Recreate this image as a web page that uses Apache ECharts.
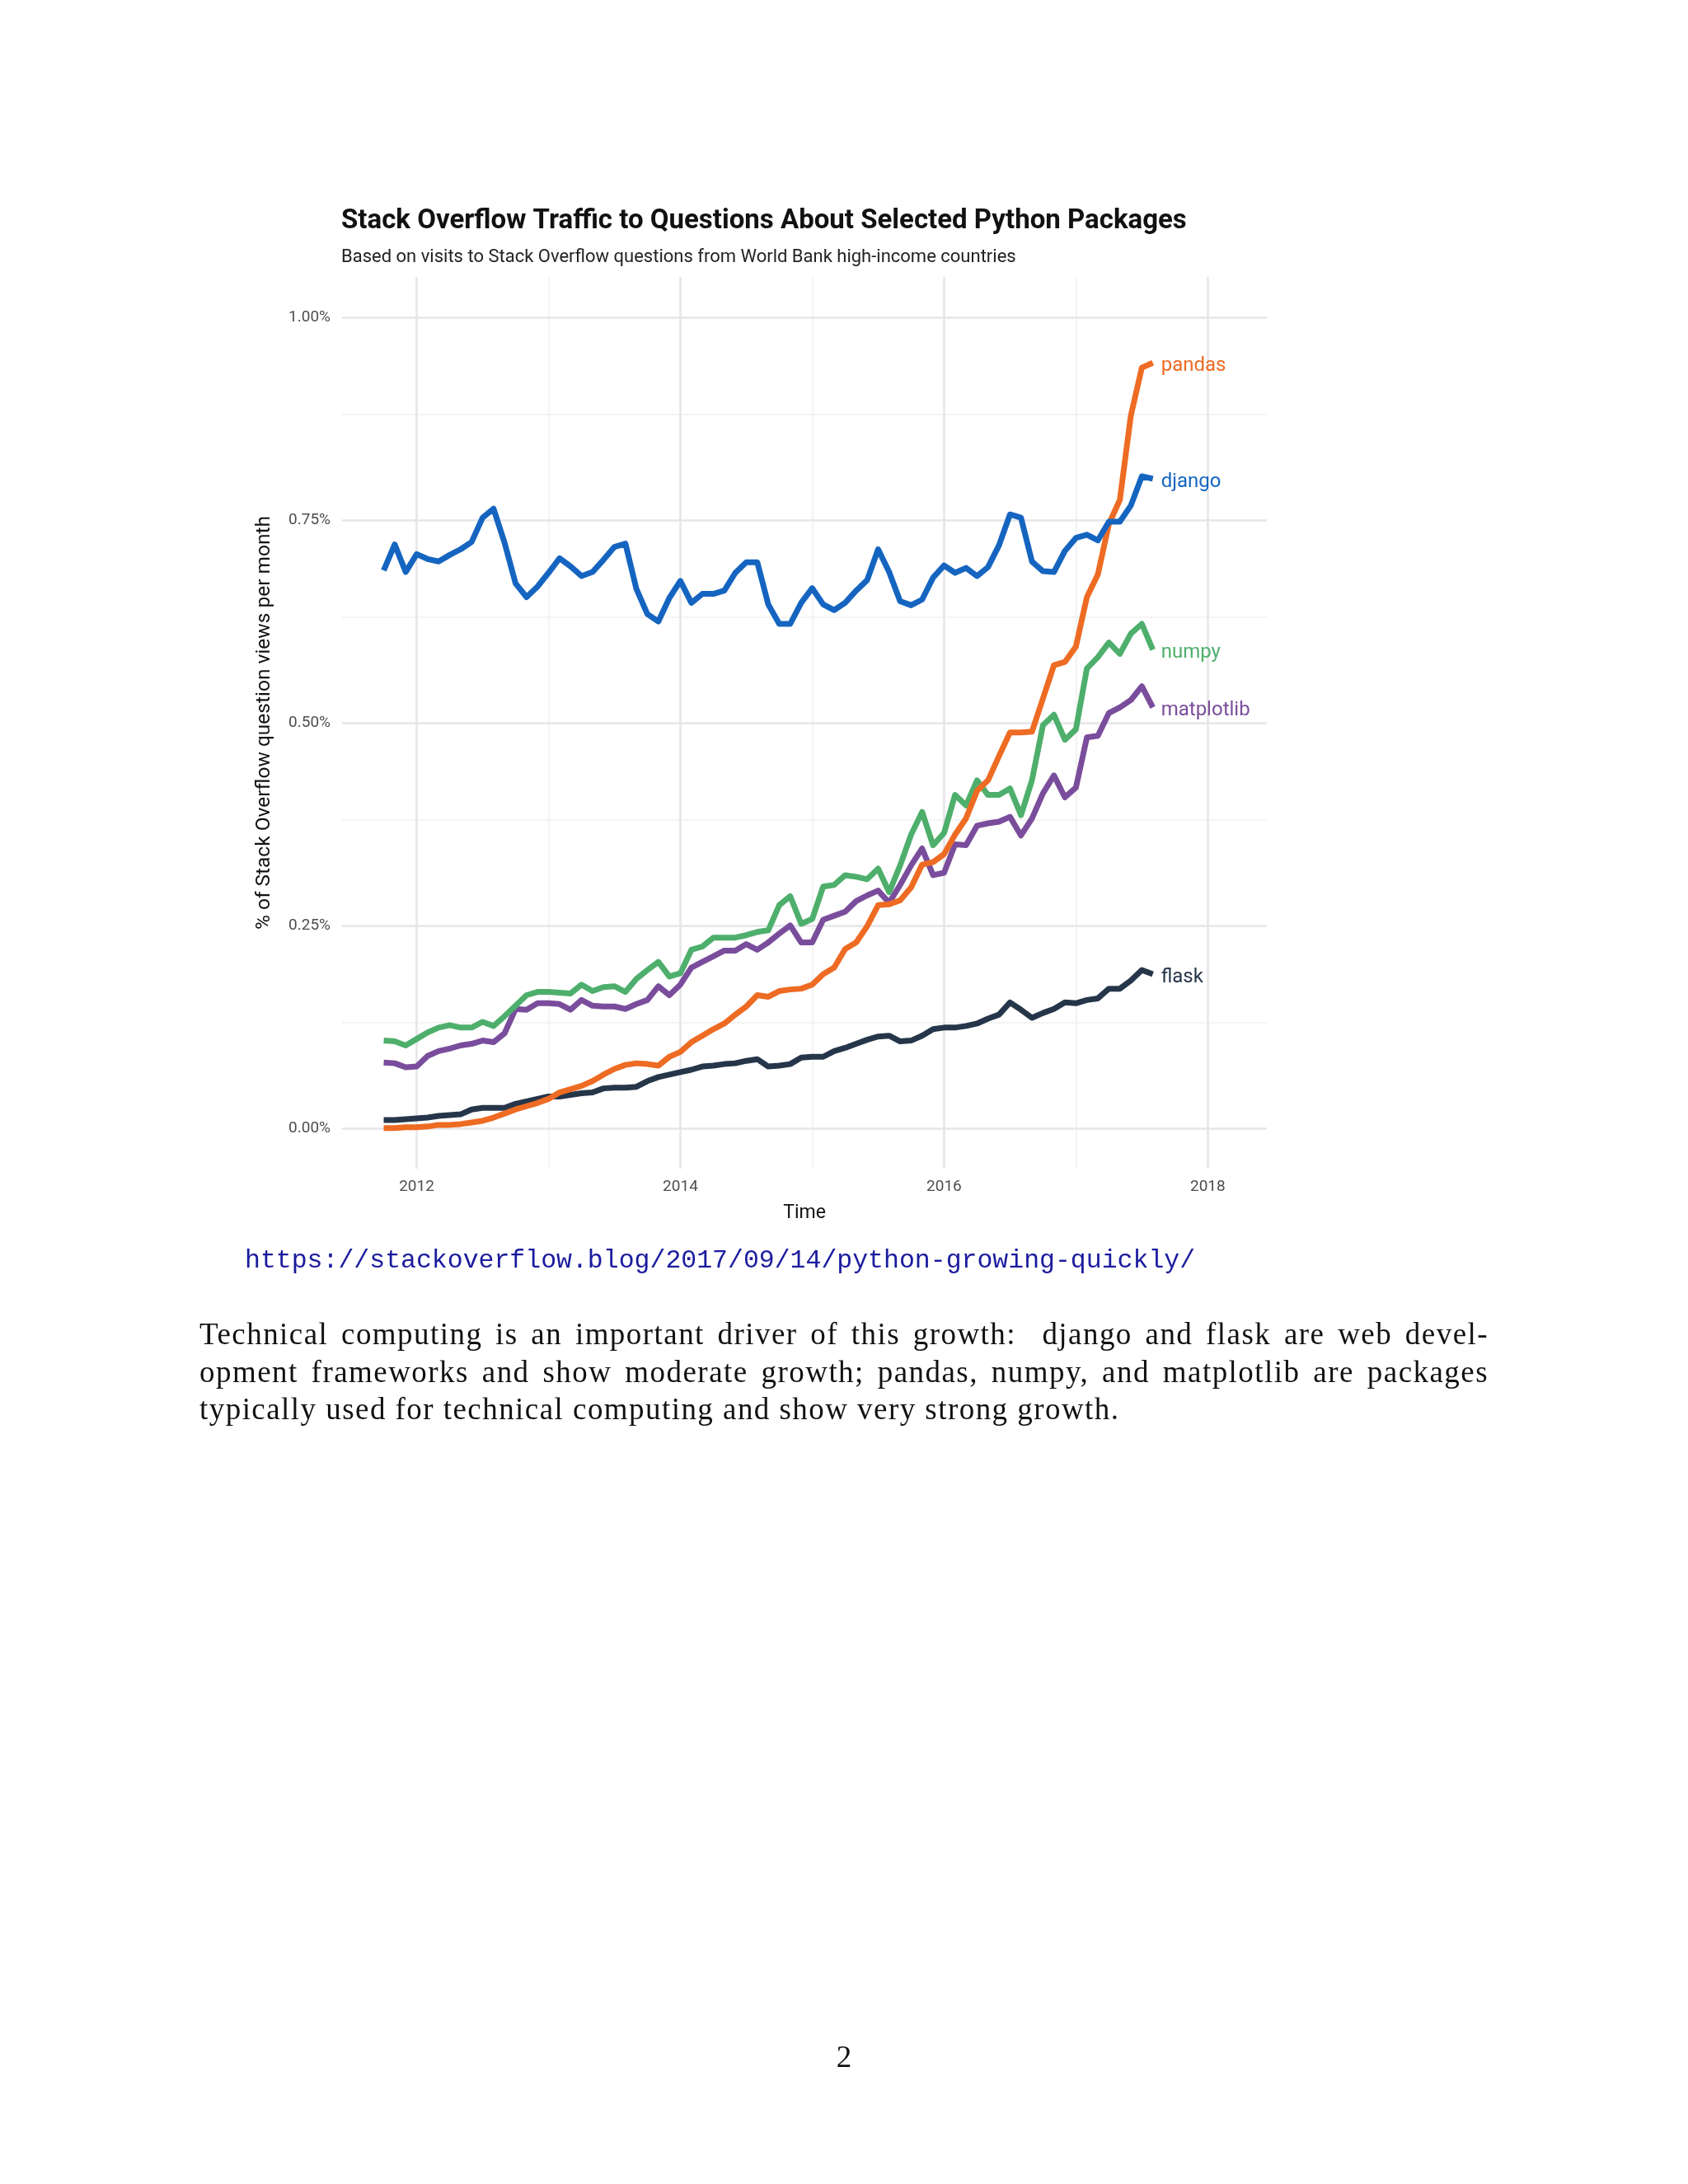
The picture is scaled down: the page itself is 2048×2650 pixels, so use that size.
<!DOCTYPE html>
<html>
<head>
<meta charset="utf-8">
<script src="https://cdn.jsdelivr.net/npm/echarts@6/dist/echarts.min.js"></script>
<style>
  html, body { margin:0; padding:0; background:#ffffff; }
  body { width:2048px; height:2650px; position:relative; overflow:hidden; }
  #chart { position:absolute; left:0; top:0; width:2048px; height:2650px; }
  .url { position:absolute; left:297px; top:1510px; font-family:"Liberation Mono", monospace; font-size:31.5px; line-height:40px; color:#1b1b9e; white-space:nowrap; }
  .para { position:absolute; left:242px; top:1596px; width:1564px; font-family:"Liberation Serif", serif; font-size:37px; line-height:45.6px; color:#111; letter-spacing:1.45px; }
  .para div { white-space:nowrap; }
  .para .j { text-align:justify; text-align-last:justify; white-space:normal; }
  .pnum { position:absolute; left:0; width:2048px; top:2473px; text-align:center; font-family:"Liberation Serif", serif; font-size:37px; line-height:46px; color:#111; }
</style>
</head>
<body>
<div id="chart"></div>
<div class="url">https://stackoverflow.blog/2017/09/14/python-growing-quickly/</div>
<div class="para">
  <div class="j">Technical computing is an important driver of this growth:&nbsp; django and flask are web devel-</div>
  <div class="j">opment frameworks and show moderate growth; pandas, numpy, and matplotlib are packages</div>
  <div>typically used for technical computing and show very strong growth.</div>
</div>
<div class="pnum">2</div>
<script>
// ---- data ----
const months = [
 "2011-10","2011-11","2011-12",
 "2012-01","2012-02","2012-03","2012-04","2012-05","2012-06","2012-07","2012-08","2012-09","2012-10","2012-11","2012-12",
 "2013-01","2013-02","2013-03","2013-04","2013-05","2013-06","2013-07","2013-08","2013-09","2013-10","2013-11","2013-12",
 "2014-01","2014-02","2014-03","2014-04","2014-05","2014-06","2014-07","2014-08","2014-09","2014-10","2014-11","2014-12",
 "2015-01","2015-02","2015-03","2015-04","2015-05","2015-06","2015-07","2015-08","2015-09","2015-10","2015-11","2015-12",
 "2016-01","2016-02","2016-03","2016-04","2016-05","2016-06","2016-07","2016-08","2016-09","2016-10","2016-11","2016-12",
 "2017-01","2017-02","2017-03","2017-04","2017-05","2017-06","2017-07","2017-08"
];

const django = [0.688,0.720,0.686,0.708,0.702,0.699,0.707,0.714,0.723,0.753,0.764,0.722,0.672,0.655,0.668,0.685,0.703,0.693,0.681,0.686,
 0.701,0.717,0.721,0.665,0.634,0.625,0.654,0.675,0.648,0.659,0.659,0.663,0.685,0.698,0.698,0.646,0.622,0.622,0.648,0.666,
 0.646,0.639,0.648,0.663,0.676,0.714,0.686,0.650,0.645,0.652,0.679,0.694,0.685,0.691,0.681,0.692,0.719,0.757,0.753,0.699,
 0.687,0.686,0.712,0.728,0.732,0.725,0.748,0.748,0.768,0.804,0.801];

const pandas = [0.000,0.000,0.001,0.001,0.002,0.004,0.004,0.005,0.007,0.009,0.013,0.018,0.023,0.027,0.031,0.036,0.044,0.048,0.052,0.058,
 0.066,0.073,0.078,0.080,0.079,0.077,0.088,0.094,0.106,0.114,0.122,0.129,0.140,0.150,0.164,0.162,0.169,0.171,0.172,0.177,
 0.190,0.198,0.221,0.229,0.249,0.275,0.276,0.281,0.297,0.325,0.328,0.338,0.362,0.382,0.416,0.429,0.459,0.488,0.488,0.489,
 0.530,0.571,0.575,0.594,0.655,0.683,0.745,0.775,0.879,0.938,0.944];

const numpy = [0.108,0.107,0.102,0.110,0.118,0.124,0.127,0.124,0.124,0.131,0.126,0.138,0.151,0.164,0.168,0.168,0.167,0.166,0.177,0.169,
 0.174,0.175,0.168,0.184,0.195,0.205,0.187,0.191,0.220,0.224,0.235,0.235,0.235,0.238,0.242,0.244,0.275,0.286,0.252,0.258,
 0.298,0.300,0.312,0.310,0.307,0.320,0.291,0.324,0.362,0.390,0.349,0.364,0.411,0.398,0.429,0.411,0.411,0.419,0.386,0.429,
 0.497,0.510,0.479,0.492,0.567,0.581,0.599,0.585,0.610,0.622,0.590];

const matplotlib = [0.081,0.080,0.075,0.076,0.089,0.095,0.098,0.102,0.104,0.108,0.106,0.117,0.147,0.146,0.154,0.154,0.153,0.146,0.158,0.151,
 0.150,0.150,0.147,0.153,0.158,0.175,0.164,0.177,0.198,0.205,0.212,0.219,0.219,0.227,0.220,0.229,0.240,0.250,0.229,0.229,
 0.257,0.262,0.267,0.280,0.287,0.293,0.278,0.300,0.324,0.345,0.312,0.315,0.350,0.349,0.373,0.376,0.378,0.384,0.361,0.382,
 0.413,0.435,0.408,0.420,0.482,0.484,0.512,0.519,0.528,0.545,0.519];

const flask = [0.010,0.010,0.011,0.012,0.013,0.015,0.016,0.017,0.023,0.025,0.025,0.025,0.030,0.033,0.036,0.039,0.039,0.041,0.043,0.044,
 0.049,0.050,0.050,0.051,0.058,0.063,0.066,0.069,0.072,0.076,0.077,0.079,0.080,0.083,0.085,0.076,0.077,0.079,0.087,0.088,
 0.088,0.095,0.099,0.104,0.109,0.113,0.114,0.107,0.108,0.114,0.122,0.124,0.124,0.126,0.129,0.135,0.140,0.155,0.146,0.136,
 0.142,0.147,0.155,0.154,0.158,0.160,0.172,0.172,0.182,0.195,0.190];

const xMajorTicks = [2012, 2014, 2016, 2018];
const xMinorTicks = [2013, 2015, 2017];
const yMajorTicks = [0, 0.25, 0.5, 0.75, 1.0];
const yMinorTicks = [0.125, 0.375, 0.625, 0.875];

const seriesNames = ["flask", "matplotlib", "numpy", "pandas", "django"];
const seriesColors = { pandas:"#EE6B23", django:"#1565C0", numpy:"#4EAF6C", matplotlib:"#7A4D9C", flask:"#26364A" };
const seriesValues = { pandas, django, numpy, matplotlib, flask };

const titleText = "Stack Overflow Traffic to Questions About Selected Python Packages";
const subtitleText = "Based on visits to Stack Overflow questions from World Bank high-income countries";
const yAxisTitle = "% of Stack Overflow question views per month";
const xAxisTitle = "Time";

// ---- build ----
const xDec = months.map(m => { const [y, mo] = m.split("-").map(Number); return y + (mo - 1) / 12; });

const FONT = "Roboto";
const majorGrid = { color: "#e6e6ea", width: 2.6, type: "solid" };
const minorGrid = { color: "#f0f0f2", width: 1.6, type: "solid" };

const gridLines = []
  .concat(xMinorTicks.map(v => ({ xAxis: v, lineStyle: minorGrid })))
  .concat(yMinorTicks.map(v => ({ yAxis: v, lineStyle: minorGrid })))
  .concat(xMajorTicks.map(v => ({ xAxis: v, lineStyle: majorGrid })))
  .concat(yMajorTicks.map(v => ({ yAxis: v, lineStyle: majorGrid })));

const series = [{
  type: "line", name: "_grid", data: [], silent: true, z: 0,
  markLine: { silent: true, z: 0, symbol: ["none", "none"], label: { show: false }, animation: false, data: gridLines }
}];

seriesNames.forEach((n, k) => {
  series.push({
    type: "line", name: n, z: 10 + k,
    data: seriesValues[n].map((v, i) => [xDec[i], v]),
    showSymbol: false, symbol: "none",
    lineStyle: { color: seriesColors[n], width: 7, cap: "butt", join: "round" },
    itemStyle: { color: seriesColors[n] },
    endLabel: {
      show: true, formatter: p => p.seriesName, color: seriesColors[n],
      fontFamily: FONT, fontSize: 24, distance: 10, offset: [0, 4]
    },
    emphasis: { disabled: true }
  });
});

const chart = echarts.init(document.getElementById("chart"), null, { renderer: "canvas", width: 2048, height: 2650 });
chart.setOption({
  animation: false,
  backgroundColor: "#ffffff",
  title: [
    { text: titleText, left: 414, top: 249, padding: 0,
      textStyle: { fontFamily: FONT, fontWeight: "bold", fontSize: 33, lineHeight: 40, color: "#111111" } },
    { text: subtitleText, left: 414, top: 299, padding: 0,
      textStyle: { fontFamily: FONT, fontWeight: "normal", fontSize: 22, lineHeight: 26, color: "#222222" } }
  ],
  grid: { left: 415, right: 511, top: 336, bottom: 1232, containLabel: false },
  xAxis: {
    type: "value", min: 2011.434, max: 2018.448,
    axisLine: { show: false }, axisTick: { show: false }, splitLine: { show: false },
    axisLabel: { customValues: xMajorTicks, margin: 13, fontFamily: FONT, fontSize: 19, color: "#4d4d4d", formatter: v => String(v) },
    name: xAxisTitle, nameLocation: "middle", nameGap: 43,
    nameTextStyle: { fontFamily: FONT, fontSize: 23, color: "#111111" }
  },
  yAxis: {
    type: "value", min: -0.05, max: 1.05,
    axisLine: { show: false }, axisTick: { show: false }, splitLine: { show: false },
    axisLabel: { customValues: yMajorTicks, margin: 14, fontFamily: FONT, fontSize: 19, color: "#4d4d4d", formatter: v => v.toFixed(2) + "%" },
    name: yAxisTitle, nameLocation: "middle", nameGap: 82, nameRotate: 90,
    nameTextStyle: { fontFamily: FONT, fontSize: 24.5, color: "#111111" }
  },
  series: series
});
</script>
</body>
</html>
